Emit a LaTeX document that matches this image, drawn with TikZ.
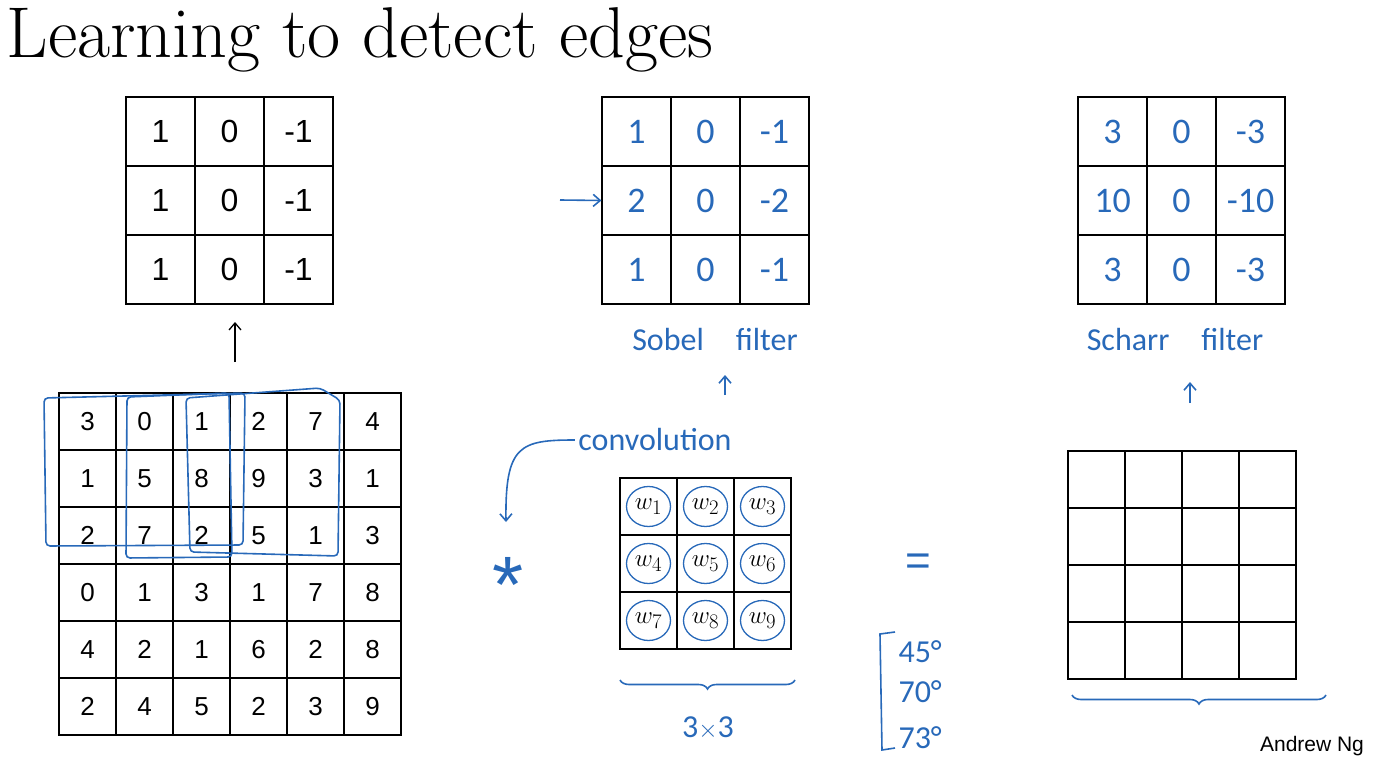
\documentclass[tikz,border=0pt]{standalone}
\usepackage{fontspec}
\newfontfamily\sans{Liberation Sans}
\newfontfamily\hand{Carlito}
\usetikzlibrary{decorations.pathreplacing,arrows.meta}
\definecolor{ink}{RGB}{40,105,185}
\begin{document}
\begin{tikzpicture}[x=1pt,y=-1pt,>={Straight Barb[length=7pt,width=12pt]},
 cellA/.style={draw,line width=1.2pt,minimum size=69pt,inner sep=0pt,font=\sans\fontsize{32}{32}\selectfont},
 cellS/.style={cellA,text=ink,font=\hand\fontsize{36}{36}\selectfont},
 cellB/.style={draw,line width=1.2pt,minimum size=57pt,inner sep=0pt,font=\sans\fontsize{26}{26}\selectfont},
 bl/.style={ink,line width=1.6pt},
 lab/.style={text=ink,font=\hand\fontsize{32}{32}\selectfont}]
\useasboundingbox (0,0) rectangle (1382,765);
\node[anchor=west,font=\fontsize{72}{72}\selectfont] (title) at (3,40) {Learning to detect edges};
\foreach \r/\a/\b/\c in {0/1/0/-1,1/1/0/-1,2/1/0/-1}{
 \node[cellA] (v\r a) at (160.5,131.5+69*\r) {\a};
 \node[cellA] (v\r b) at (229.5,131.5+69*\r) {\b};
 \node[cellA] (v\r c) at (298.5,131.5+69*\r) {\c};}
\foreach \r/\a/\b/\c in {0/1/0/-1,1/2/0/-2,2/1/0/-1}{
 \node[cellS] (s\r a) at (636.5,131.5+69*\r) {\a};
 \node[cellS] (s\r b) at (705.5,131.5+69*\r) {\b};
 \node[cellS] (s\r c) at (774.5,131.5+69*\r) {\c};}
\foreach \r/\a/\b/\c in {0/3/0/-3,1/10/0/-10,2/3/0/-3}{
 \node[cellS] (h\r a) at (1112.5,131.5+69*\r) {\a};
 \node[cellS] (h\r b) at (1181.5,131.5+69*\r) {\b};
 \node[cellS] (h\r c) at (1250.5,131.5+69*\r) {\c};}
\node[lab] (sob) at (715,340) {Sobel\quad filter};
\node[lab] (sch) at (1175,340) {Scharr\quad filter};
\foreach \row [count=\i from 0] in {{3,0,1,2,7,4},{1,5,8,9,3,1},{2,7,2,5,1,3},{0,1,3,1,7,8},{4,2,1,6,2,8},{2,4,5,2,3,9}}{
 \foreach \v [count=\j from 0] in \row {
  \node[cellB] (m\i\j) at (87.5+57*\j,421.5+57*\i) {\v};}}
\draw[bl,rounded corners=4pt] (44,398) -- (245,393) -- (243,545) -- (46,546) -- cycle;
\draw[bl,rounded corners=4pt] (127,397) -- (229,393) -- (232,557) -- (126,558) -- cycle;
\draw[bl,rounded corners=4pt] (186,398) -- (320,388) -- (340,400) -- (338,556) -- (190,552) -- cycle;
\foreach \i in {0,1,2}{\foreach \j in {0,1,2}{
 \pgfmathtruncatemacro\k{3*\i+\j+1}
 \node[cellB,font=\fontsize{30}{30}\selectfont] (w\i\j) at (648.5+57*\j,506.5+57*\i) {$w_{\k}$};
 \draw[bl,line width=1.3pt] (w\i\j.center) circle[x radius=22,y radius=20];}}
\foreach \i in {0,...,3}{\foreach \j in {0,...,3}{
 \node[cellB] (o\i\j) at (1096.5+57*\j,479.5+57*\i) {};}}
\coordinate (a1) at (235,362); \coordinate (a1e) at (235,322); \draw[line width=1.3pt,->] (a1) -- (a1e);
\coordinate (a2) at (725,395); \coordinate (a2e) at (725,375); \draw[bl,->] (a2) -- (a2e);
\coordinate (a3) at (1190,403); \coordinate (a3e) at (1190,382); \draw[bl,->] (a3) -- (a3e);
\coordinate (a4) at (560,200); \draw[bl,->] (a4) -- (s1a.west);
\node[lab] (conv) at (655,440) {convolution};
\draw[bl,->] (conv.west) .. controls (520,440) and (505,445) .. (506,522);
\node[text=ink,font=\sans\fontsize{80}{80}\selectfont] (star) at (508,585) {*};
\node[text=ink,font=\sans\fontsize{44}{44}\selectfont] (eq) at (918,565) {=};
\draw[bl,decorate,decoration={brace,mirror,amplitude=9pt}] (620,680) -- (795,680);
\node[lab] (sz) at (708,728) {3$\times$3};
\draw[bl,decorate,decoration={brace,mirror,amplitude=9pt}] (1072,695) -- (1326,695);
\draw[bl] (895,632) -- (880,634) -- (882,750) -- (895,748);
\node[lab,anchor=west] (d1) at (895,652) {45°};
\node[lab,anchor=west] (d2) at (895,692) {70°};
\node[lab,anchor=west] (d3) at (895,738) {73°};
\node[font=\sans\fontsize{21}{21}\selectfont] (ng) at (1312,746) {Andrew Ng};
\end{tikzpicture}
\end{document}
